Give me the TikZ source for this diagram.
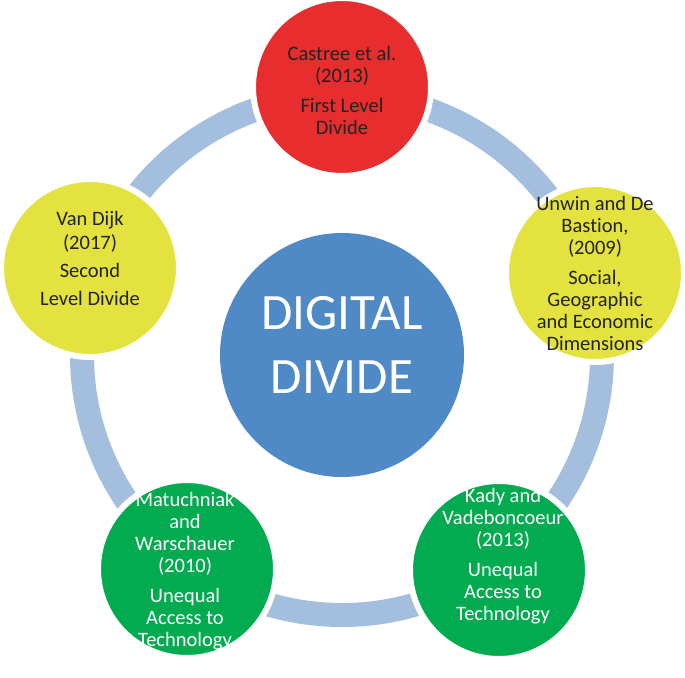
\documentclass[tikz,border=0pt]{standalone}
\usepackage{fontspec}
\setmainfont{Carlito}[Ligatures=NoCommon]
\usetikzlibrary{positioning}
\definecolor{ringblue}{RGB}{164,190,222}
\definecolor{hubblue}{RGB}{80,138,198}
\definecolor{divred}{RGB}{232,45,46}
\definecolor{divyellow}{RGB}{227,226,62}
\definecolor{divgreen}{RGB}{2,170,80}
\definecolor{darktext}{RGB}{35,35,35}

\begin{document}
\begin{tikzpicture}[x=1pt, y=-1pt,
  outer/.style={circle, draw=white, line width=6pt, minimum size=178pt, inner sep=0pt},
  blurb/.style={align=center, inner sep=0pt, font=\fontsize{20.5}{22}\selectfont}]
\useasboundingbox (0,0) rectangle (685,677);
% ring behind the five circles
\draw[ringblue, line width=24pt] (342,355) circle[radius=260pt];
% centre
\node[circle, fill=hubblue, minimum size=244pt, inner sep=0pt] (hub) at (342,355) {};
\node[text=white, align=center, inner sep=0pt, font=\fontsize{51}{64}\selectfont] (hubtxt) at ([yshift=10pt]hub.center) {DIGITAL\\DIVIDE};
% outer circles
\node[outer, fill=divred] (castree) at (342,87) {};
\node[outer, fill=divyellow] (unwin) at (595,273) {};
\node[outer, fill=divgreen] (kady) at (499,570) {};
\node[outer, fill=divgreen] (matuch) at (187,569) {};
\node[outer, fill=divyellow] (vandijk) at (90,268) {};
% texts
\node[blurb, text=darktext] (castreetxt) at ([yshift=-3pt]castree.center) {Castree et al.\\(2013)\\[8pt]First Level\\Divide};
\node[blurb, text=darktext] (unwintxt) at (unwin.center) {Unwin and De\\Bastion,\\(2009)\\[8pt]Social,\\Geographic\\and Economic\\Dimensions};
\node[blurb, text=white] (kadytxt) at ([xshift=4pt, yshift=14pt]kady.center) {Kady and\\Vadeboncoeur\\(2013)\\[8pt]Unequal\\Access to\\Technology};
\node[blurb, text=white] (matuchtxt) at ([xshift=-2pt, yshift=-2pt]matuch.center) {Matuchniak\\and\\Warschauer\\(2010)\\[8pt]Unequal\\Access to\\Technology};
\node[blurb, text=darktext] (vandijktxt) at ([yshift=10pt]vandijk.center) {Van Dijk\\[2pt](2017)\\[6pt]Second\\[6pt]Level Divide};
\end{tikzpicture}
\end{document}
